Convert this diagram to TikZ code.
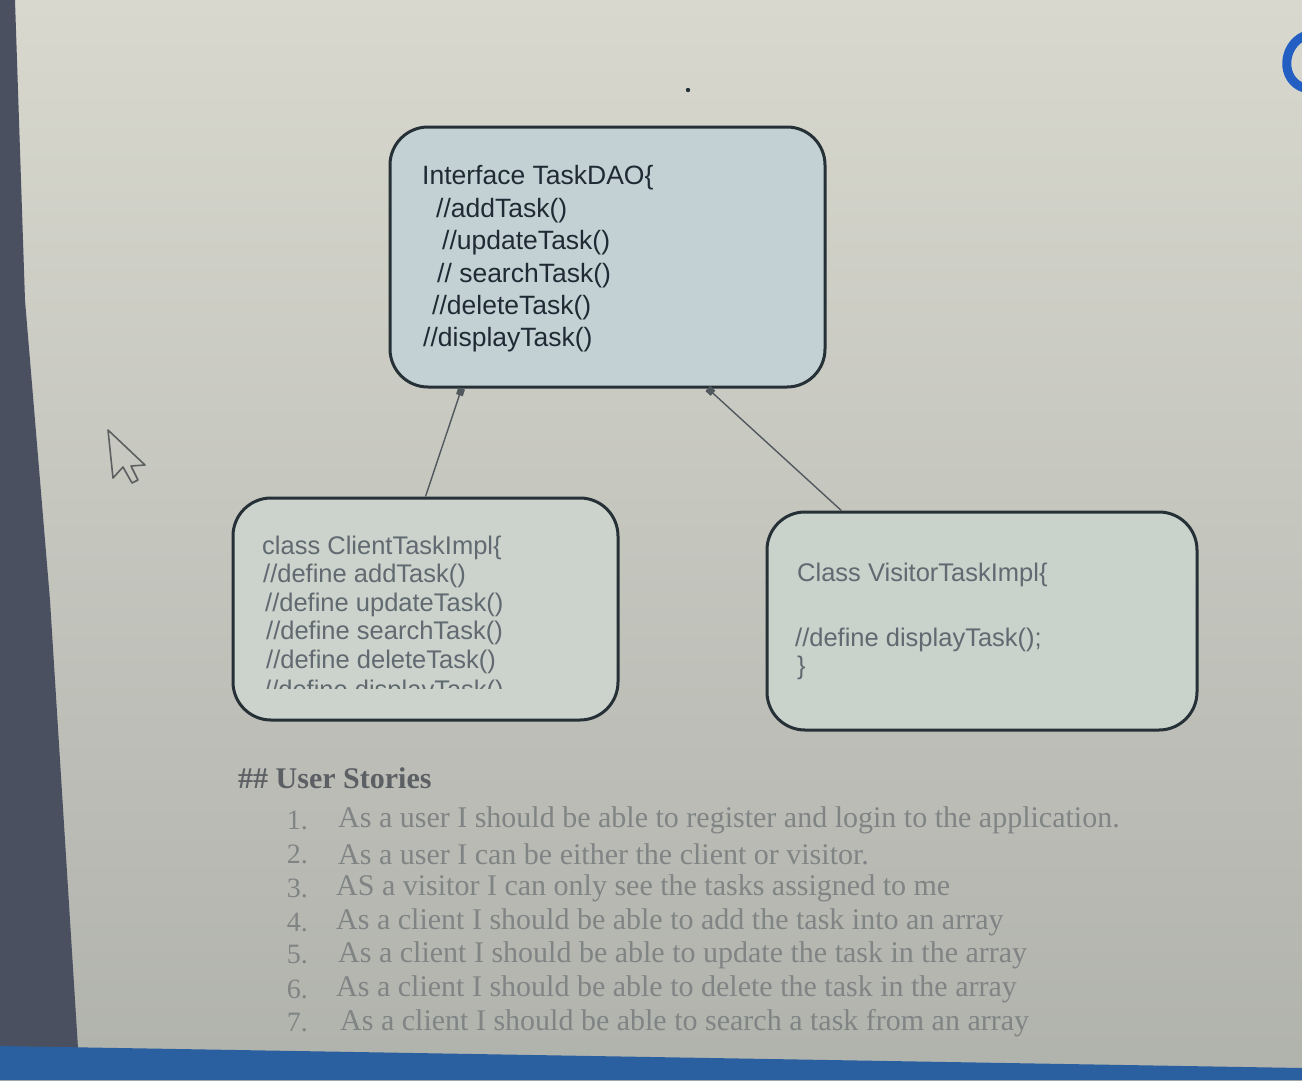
\documentclass[tikz,border=0pt]{standalone}
\usepackage{fontspec}
\setmainfont{Liberation Serif}
\newfontfamily\arialf{Liberation Sans}
\usetikzlibrary{calc,arrows.meta}
\definecolor{bgtop}{RGB}{216,216,206}
\definecolor{bgbot}{RGB}{176,178,172}
\definecolor{darkstrip}{RGB}{74,80,96}
\definecolor{bandblue}{RGB}{42,96,160}
\definecolor{boxline}{RGB}{38,48,55}
\definecolor{daofill}{RGB}{196,209,212}
\definecolor{leftfill}{RGB}{204,211,204}
\definecolor{rightfill}{RGB}{202,210,204}
\definecolor{daotext}{RGB}{32,42,52}
\definecolor{impltext}{RGB}{96,106,112}
\definecolor{storytext}{RGB}{128,132,132}
\definecolor{storyhead}{RGB}{92,96,100}
\definecolor{cursorgray}{RGB}{92,96,96}
\definecolor{markblue}{RGB}{35,95,195}
\begin{document}
\begin{tikzpicture}[x=1pt,y=-1pt,
  boxshape/.style={draw=boxline,line width=3pt,rounded corners=38pt,inner sep=0pt},
  daoline/.style={anchor=west,inner sep=0pt,text=daotext,font=\arialf\fontsize{26.5}{29}\selectfont},
  implline/.style={anchor=west,inner sep=0pt,text=impltext,font=\arialf\fontsize{25.5}{29}\selectfont},
  storynum/.style={anchor=east,inner sep=0pt,text=storytext,font=\fontsize{28}{30}\selectfont},
  storyline/.style={anchor=west,inner sep=0pt,text=storytext,font=\fontsize{30}{32}\selectfont},
  link/.style={draw=boxline!80,line width=1.4pt,{Square[length=7pt,width=7pt]}-}
]
\useasboundingbox (0,0) rectangle (1302,1080);
% background screen
\shade[top color=bgtop,bottom color=bgbot] (0,0) rectangle (1302,1080);
\fill[darkstrip] (0,0) -- (15,0) -- (25,300) -- (50,600) -- (78,1048) -- (0,1048) -- cycle;
\fill[bandblue] (0,1046) -- (1302,1068) -- (1302,1080) -- (0,1080) -- cycle;
\draw[markblue,line width=9pt] (1304,36) .. controls (1282,46) and (1280,80) .. (1304,88);
\fill[boxline] (688,90) circle (2.2);
% cursor
\draw[cursorgray,line width=1.6pt,line join=round] (108,430) -- (113,478) -- (123,467) -- (132,483) -- (138,480) -- (131,466) -- (145,465) -- cycle;

% boxes
\node[boxshape,fill=daofill,minimum width=435pt,minimum height=260pt] (dao) at (607.5,257) {};
\node[boxshape,fill=leftfill,minimum width=385pt,minimum height=222pt] (client) at (425.5,609) {};
\node[boxshape,fill=rightfill,minimum width=430pt,minimum height=218pt] (visitor) at (982,621) {};

% connectors
\coordinate (daoL) at ($(dao.south west)!0.167!(dao.south east)$);
\coordinate (daoR) at ($(dao.south west)!0.729!(dao.south east)$);
\coordinate (clientT) at ($(client.north west)!0.5!(client.north east)$);
\coordinate (visitorT) at ($(visitor.north west)!0.175!(visitor.north east)$);
\draw[link] (daoL) -- (clientT);
\draw[link] (daoR) -- (visitorT);

% interface text
\node[daoline] (d1) at (422,178) {Interface TaskDAO\{};
\node[daoline] (d2) at (436,211) {//addTask()};
\node[daoline] (d3) at (442,243) {//updateTask()};
\node[daoline] (d4) at (437,276) {// searchTask()};
\node[daoline] (d5) at (432,308) {//deleteTask()};
\node[daoline] (d6) at (423,340) {//displayTask()};

% client text
\node[implline] (c1) at (262,548) {class ClientTaskImpl\{};
\node[implline] (c2) at (263,576) {//define addTask()};
\node[implline] (c3) at (265,605) {//define updateTask()};
\node[implline] (c4) at (266,633) {//define searchTask()};
\node[implline] (c5) at (266,662) {//define deleteTask()};
\begin{scope}
\clip (240,670) rectangle (620,688);
\node[implline] (c6) at (264,692) {//define displayTask()};
\end{scope}

% visitor text
\node[implline] (v1) at (797,575) {Class VisitorTaskImpl\{};
\node[implline] (v2) at (795,640) {//define displayTask();};
\node[implline] (v3) at (797,668) {\}};

% user stories
\node[anchor=west,inner sep=0pt,text=storyhead,font=\bfseries\fontsize{30}{32}\selectfont] (head) at (238,778) {\#\# User Stories};
\node[storynum] (n1) at (308,820) {1.};
\node[storyline] (s1) at (338,820) {As a user I should be able to register and login to the application.};
\node[storynum] (n2) at (308,854) {2.};
\node[storyline] (s2) at (338,854) {As a user I can be either the client or visitor.};
\node[storynum] (n3) at (308,888) {3.};
\node[storyline] (s3) at (336,888) {AS a visitor I can only see the tasks assigned to me};
\node[storynum] (n4) at (308,922) {4.};
\node[storyline] (s4) at (336,922) {As a client I should be able to add the task into an array};
\node[storynum] (n5) at (308,955) {5.};
\node[storyline] (s5) at (338,955) {As a client I should be able to update the task in the array};
\node[storynum] (n6) at (308,989) {6.};
\node[storyline] (s6) at (336,989) {As a client I should be able to delete the task in the array};
\node[storynum] (n7) at (308,1023) {7.};
\node[storyline] (s7) at (340,1023) {As a client I should be able to search a task from an array};
\end{tikzpicture}
\end{document}
